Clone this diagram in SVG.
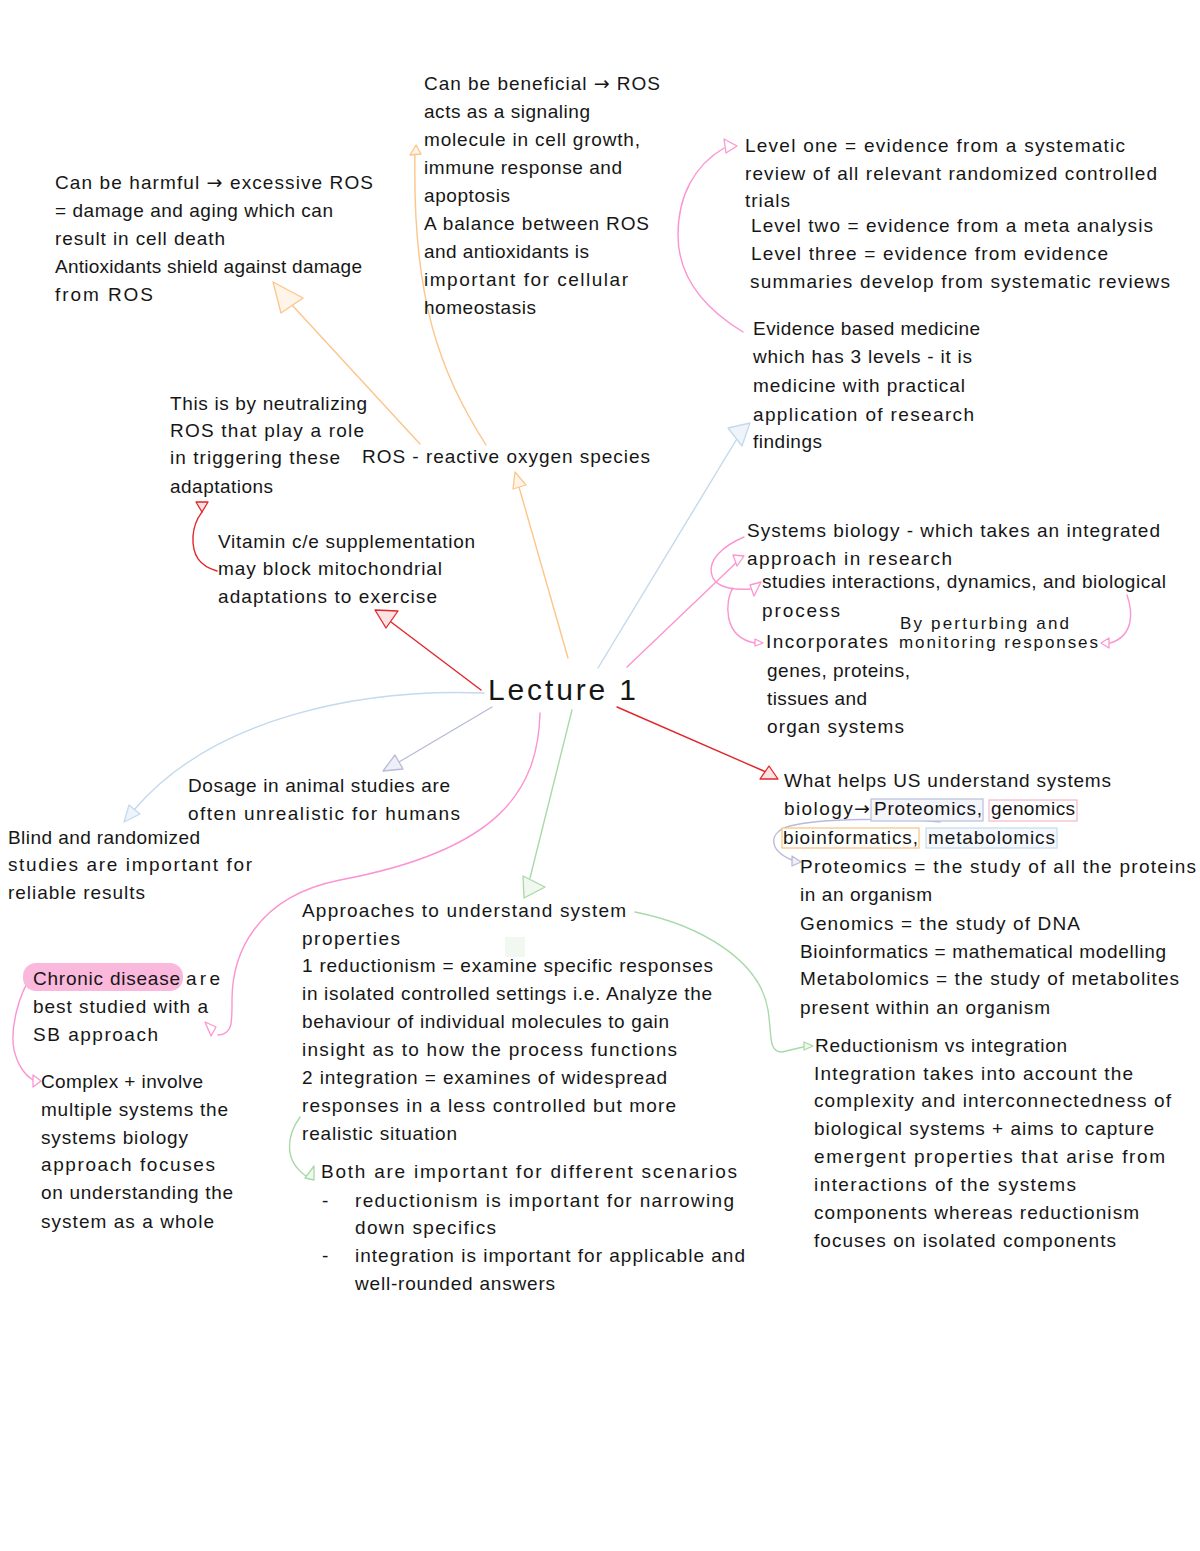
<svg xmlns="http://www.w3.org/2000/svg" width="1200" height="1551" viewBox="0 0 1200 1551">
<style>
.t{font-family:"Liberation Sans",Arial,sans-serif;font-size:19px;fill:#161616}
.big{font-size:30px}
.sm{font-size:17px}
.ar{font-family:"DejaVu Sans",sans-serif}
.c{fill:none;stroke-width:1.4;stroke-linecap:round;stroke-linejoin:round}
.a{stroke-width:1.3;stroke-linejoin:round}
.or{stroke:#fcc58a}.orf{fill:#fff4e8;stroke:#fcc58a}
.rd{stroke:#e2262b}.rdf{fill:#fbe3e3;stroke:#e2262b}
.lb{stroke:#c3d9ed}.lbf{fill:#eef4fa;stroke:#c3d9ed}
.pk{stroke:#fb95d2}.pkf{fill:#fff;stroke:#fb95d2}
.gb{stroke:#b8bcd9}.gbf{fill:#eeeff7;stroke:#b8bcd9}
.gr{stroke:#a8d9a8}.grf{fill:#f0f8f0;stroke:#a8d9a8}
.box{stroke-width:1.2}
</style>
<rect width="1200" height="1551" fill="#ffffff"/>

<g id="connectors">
  <path class="c or" d="M420,444 L292,305"/>
  <polygon class="a orf" points="273,282 303,298 281,313"/>
  <path class="c or" d="M486,445 C440,372 412,300 415,152"/>
  <polygon class="a orf" points="416,145 410,155 421,154"/>
  <path class="c or" d="M568,658 L519,487"/>
  <polygon class="a orf" points="515,472 526,485 513,489"/>
  <path class="c rd" d="M481,690 L391,622"/>
  <polygon class="a rdf" points="375,610 398,611 386,628"/>
  <path class="c rd" d="M217,571 C200,566 192,556 193,536 C194,522 199,516 202,512"/>
  <polygon class="a rdf" points="196,502 208,502 202,512"/>
  <path class="c lb" d="M598,668 L738,437"/>
  <polygon class="a lbf" points="728,428 750,423 742,446"/>
  <path class="c pk" d="M743,332 C715,315 678,285 678,235 C678,195 695,165 724,148"/>
  <polygon class="a pkf" points="737,146 724,139 726,153"/>
  <path class="c pk" d="M627,667 L738,561"/>
  <polygon class="a pkf" points="733,555 744,556 737,566"/>
  <path class="c pk" d="M744,537 C725,545 705,560 713,578 C718,588 735,590 750,589"/>
  <polygon class="a pkf" points="750,585 761,582 754,596"/>
  <path class="c pk" d="M733,588 C725,600 722,637 755,643"/>
  <polygon class="a pkf" points="755,639 763,643 755,646"/>
  <path class="c pk" d="M1127,595 C1133,612 1134,636 1110,643"/>
  <polygon class="a pkf" points="1101,643 1109,638 1109,648"/>
  <path class="c rd" d="M617,707 L766,772"/>
  <polygon class="a rdf" points="760,779 778,779 769,766"/>
  <path class="c gb" d="M940,822 C900,818 820,818 790,826 C768,832 768,850 792,860"/>
  <polygon class="a gbf" points="792,856 801,862 792,866"/>
  <path class="c gb" d="M492,707 L399,762"/>
  <polygon class="a gbf" points="383,771 403,769 395,755"/>
  <path class="c lb" d="M484,693 C360,688 212,718 134,810"/>
  <polygon class="a lbf" points="124,822 140,814 129,805"/>
  <path class="c pk" d="M540,713 C538,790 500,850 340,880 C255,897 232,955 232,1000 C232,1022 233,1034 218,1035"/>
  <polygon class="a pkf" points="205,1022 216,1027 211,1036"/>
  <path class="c pk" d="M32,975 C18,995 10,1030 14,1050 C18,1066 25,1075 33,1080"/>
  <polygon class="a pkf" points="33,1075 41,1081 33,1087"/>
  <path class="c gr" d="M572,710 L530,878"/>
  <polygon class="a grf" points="523,876 545,887 524,898"/>
  <path class="c gr" d="M635,912 C700,925 760,960 768,1010 C772,1035 768,1052 782,1052 L803,1047"/>
  <polygon class="a grf" points="804,1042 813,1046 804,1050"/>
  <path class="c gr" d="M300,1117 C287,1135 283,1160 306,1176"/>
  <polygon class="a grf" points="314,1166 314,1180 305,1178"/>
</g>

<g id="node-lecture">
  <text class="t big" x="488" y="700" textLength="148">Lecture 1</text>
</g>

<g id="node-harmful">
  <text class="t" x="55" y="189" textLength="318">Can be harmful <tspan class="ar">→</tspan> excessive ROS</text>
  <text class="t" x="55" y="217" textLength="278">= damage and aging which can</text>
  <text class="t" x="55" y="245" textLength="170">result in cell death</text>
  <text class="t" x="55" y="273" textLength="307">Antioxidants shield against damage</text>
  <text class="t" x="55" y="301" textLength="98">from ROS</text>
</g>

<g id="node-beneficial">
  <text class="t" x="424" y="90" textLength="236">Can be beneficial <tspan class="ar">→</tspan> ROS</text>
  <text class="t" x="424" y="118" textLength="166">acts as a signaling</text>
  <text class="t" x="424" y="146" textLength="216">molecule in cell growth,</text>
  <text class="t" x="424" y="174" textLength="198">immune response and</text>
  <text class="t" x="424" y="202" textLength="86">apoptosis</text>
  <text class="t" x="424" y="230" textLength="225">A balance between ROS</text>
  <text class="t" x="424" y="258" textLength="165">and antioxidants is</text>
  <text class="t" x="424" y="286" textLength="204">important for cellular</text>
  <text class="t" x="424" y="314" textLength="112">homeostasis</text>
</g>

<g id="node-ros">
  <text class="t" x="362" y="463" textLength="288">ROS - reactive oxygen species</text>
</g>

<g id="node-neutralizing">
  <text class="t" x="170" y="410" textLength="197">This is by neutralizing</text>
  <text class="t" x="170" y="437" textLength="194">ROS that play a role</text>
  <text class="t" x="170" y="464" textLength="170">in triggering these</text>
  <text class="t" x="170" y="493" textLength="103">adaptations</text>
</g>

<g id="node-vitamin">
  <text class="t" x="218" y="548" textLength="257">Vitamin c/e supplementation</text>
  <text class="t" x="218" y="575" textLength="224">may block mitochondrial</text>
  <text class="t" x="218" y="603" textLength="219">adaptations to exercise</text>
</g>

<g id="node-levels">
  <text class="t" x="745" y="152" textLength="380">Level one = evidence from a systematic</text>
  <text class="t" x="745" y="180" textLength="412">review of all relevant randomized controlled</text>
  <text class="t" x="745" y="207" textLength="45">trials</text>
  <text class="t" x="751" y="232" textLength="402">Level two = evidence from a meta analysis</text>
  <text class="t" x="751" y="260" textLength="357">Level three = evidence from evidence</text>
  <text class="t" x="750" y="288" textLength="420">summaries develop from systematic reviews</text>
</g>

<g id="node-evidence">
  <text class="t" x="753" y="335" textLength="227">Evidence based medicine</text>
  <text class="t" x="753" y="363" textLength="219">which has 3 levels - it is</text>
  <text class="t" x="753" y="392" textLength="212">medicine with practical</text>
  <text class="t" x="753" y="421" textLength="221">application of research</text>
  <text class="t" x="753" y="448" textLength="69">findings</text>
</g>

<g id="node-systems">
  <text class="t" x="747" y="537" textLength="413">Systems biology - which takes an integrated</text>
  <text class="t" x="747" y="565" textLength="205">approach in research</text>
</g>

<g id="node-studies">
  <text class="t" x="762" y="588" textLength="404">studies interactions, dynamics, and biological</text>
  <text class="t" x="762" y="617" textLength="78">process</text>
</g>

<g id="node-incorporates">
  <text class="t" x="766" y="648" textLength="122">Incorporates</text>
  <text class="t" x="767" y="677" textLength="143">genes, proteins,</text>
  <text class="t" x="767" y="705" textLength="100">tissues and</text>
  <text class="t" x="767" y="733" textLength="137">organ systems</text>
</g>

<g id="node-perturbing">
  <text class="t sm" x="900" y="629" textLength="169">By perturbing and</text>
  <text class="t sm" x="899" y="648" textLength="199">monitoring responses</text>
</g>

<g id="node-whathelps">
  <rect class="box" x="871" y="799" width="112" height="22" fill="#f4f5fa" stroke="#b8c0dc"/>
  <rect class="box" x="989" y="800" width="88" height="21" fill="#ffffff" stroke="#f4b8c8"/>
  <rect class="box" x="782" y="828" width="137" height="20" fill="#ffffff" stroke="#fbc07a"/>
  <rect class="box" x="926" y="828" width="131" height="20" fill="#f5f9fd" stroke="#c6dbee"/>
  <text class="t" x="784" y="787" textLength="327">What helps US understand systems</text>
  <text class="t" x="784" y="815" textLength="86">biology<tspan class="ar">→</tspan></text>
  <text class="t" x="874" y="815" textLength="108">Proteomics,</text>
  <text class="t" x="991" y="815" textLength="84">genomics</text>
  <text class="t" x="783" y="844" textLength="135">bioinformatics,</text>
  <text class="t" x="928" y="844" textLength="127">metabolomics</text>
</g>

<g id="node-omics">
  <text class="t" x="800" y="873" textLength="396">Proteomics = the study of all the proteins</text>
  <text class="t" x="800" y="901" textLength="132">in an organism</text>
  <text class="t" x="800" y="930" textLength="280">Genomics = the study of DNA</text>
  <text class="t" x="800" y="958" textLength="366">Bioinformatics = mathematical modelling</text>
  <text class="t" x="800" y="985" textLength="379">Metabolomics = the study of metabolites</text>
  <text class="t" x="800" y="1014" textLength="250">present within an organism</text>
</g>

<g id="node-reductionism">
  <text class="t" x="815" y="1052" textLength="252">Reductionism vs integration</text>
  <text class="t" x="814" y="1080" textLength="319">Integration takes into account the</text>
  <text class="t" x="814" y="1107" textLength="357">complexity and interconnectedness of</text>
  <text class="t" x="814" y="1135" textLength="340">biological systems + aims to capture</text>
  <text class="t" x="814" y="1163" textLength="351">emergent properties that arise from</text>
  <text class="t" x="814" y="1191" textLength="262">interactions of the systems</text>
  <text class="t" x="814" y="1219" textLength="325">components whereas reductionism</text>
  <text class="t" x="814" y="1247" textLength="302">focuses on isolated components</text>
</g>

<g id="node-dosage">
  <text class="t" x="188" y="792" textLength="262">Dosage in animal studies are</text>
  <text class="t" x="188" y="820" textLength="272">often unrealistic for humans</text>
</g>

<g id="node-blind">
  <text class="t" x="8" y="844" textLength="192">Blind and randomized</text>
  <text class="t" x="8" y="871" textLength="244">studies are important for</text>
  <text class="t" x="8" y="899" textLength="137">reliable results</text>
</g>

<g id="node-approaches">
  <rect x="505" y="937" width="20" height="20" fill="#f1f7f1"/>
  <text class="t" x="302" y="917" textLength="324">Approaches to understand system</text>
  <text class="t" x="302" y="945" textLength="98">properties</text>
  <text class="t" x="302" y="972" textLength="411">1 reductionism = examine specific responses</text>
  <text class="t" x="302" y="1000" textLength="410">in isolated controlled settings i.e. Analyze the</text>
  <text class="t" x="302" y="1028" textLength="367">behaviour of individual molecules to gain</text>
  <text class="t" x="302" y="1056" textLength="375">insight as to how the process functions</text>
  <text class="t" x="302" y="1084" textLength="365">2 integration = examines of widespread</text>
  <text class="t" x="302" y="1112" textLength="374">responses in a less controlled but more</text>
  <text class="t" x="302" y="1140" textLength="155">realistic situation</text>
</g>

<g id="node-both">
  <text class="t" x="321" y="1178" textLength="416">Both are important for different scenarios</text>
  <text class="t" x="322" y="1207">-</text>
  <text class="t" x="355" y="1207" textLength="379">reductionism is important for narrowing</text>
  <text class="t" x="355" y="1234" textLength="141">down specifics</text>
  <text class="t" x="322" y="1262">-</text>
  <text class="t" x="355" y="1262" textLength="390">integration is important for applicable and</text>
  <text class="t" x="355" y="1290" textLength="200">well-rounded answers</text>
</g>

<g id="node-chronic">
  <rect x="23" y="963" width="160" height="28" rx="13" fill="#fbb8dd"/>
  <text class="t" x="33" y="985" textLength="147">Chronic disease</text>
  <text class="t" x="186" y="985" textLength="34">are</text>
  <text class="t" x="33" y="1013" textLength="175">best studied with a</text>
  <text class="t" x="33" y="1041" textLength="125">SB approach</text>
</g>

<g id="node-complex">
  <text class="t" x="41" y="1088" textLength="162">Complex + involve</text>
  <text class="t" x="41" y="1116" textLength="187">multiple systems the</text>
  <text class="t" x="41" y="1144" textLength="147">systems biology</text>
  <text class="t" x="41" y="1171" textLength="174">approach focuses</text>
  <text class="t" x="41" y="1199" textLength="192">on understanding the</text>
  <text class="t" x="41" y="1228" textLength="173">system as a whole</text>
</g>
</svg>
